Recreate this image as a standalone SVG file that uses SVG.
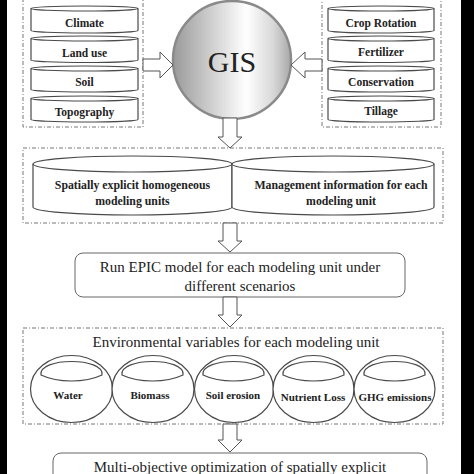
<svg xmlns="http://www.w3.org/2000/svg" width="474" height="474" viewBox="0 0 474 474">
<defs>
<linearGradient id="gis" x1="0" y1="0" x2="1" y2="0">
<stop offset="0" stop-color="#999"/>
<stop offset="0.3" stop-color="#cbcbcb"/>
<stop offset="0.62" stop-color="#ffffff"/>
<stop offset="0.85" stop-color="#d8d8d8"/>
<stop offset="1" stop-color="#a8a8a8"/>
</linearGradient>
</defs>
<style>
.dash{fill:none;stroke:#777;stroke-width:1;stroke-dasharray:4 2 1 2}
.cyl{fill:#fff;stroke:#4a4a4a;stroke-width:1.2}
.arr{fill:#fff;stroke:#555;stroke-width:1}
.t{font-family:"Liberation Serif","Times New Roman",serif;fill:#222;text-anchor:middle}
.s{font-size:11.5px;font-weight:bold}
.m{font-size:11.8px;font-weight:bold}
.c{font-size:11px;font-weight:bold}
.l{font-size:15px}
.box{fill:#fff;stroke:#666;stroke-width:1}
</style>
<rect x="0" y="0" width="474" height="474" fill="#fff"/>
<rect x="0" y="0" width="7" height="474" fill="#000"/>
<rect x="461" y="0" width="13" height="474" fill="#000"/>

<g id="left-panel">
<rect class="dash" x="23" y="-3" width="120" height="130"/>
<g id="climate">
<path class="cyl" d="M31,8.5 L31,30.5 A53.5,2.5 0 0 0 138,30.5 L138,8.5"/>
<ellipse class="cyl" cx="84.5" cy="8.5" rx="53.5" ry="2.5"/>
<text class="t s" x="84.5" y="27">Climate</text>
</g>
<g id="landuse">
<path class="cyl" d="M31,38.5 L31,60 A53.5,2.5 0 0 0 138,60 L138,38.5"/>
<ellipse class="cyl" cx="84.5" cy="38.5" rx="53.5" ry="2.5"/>
<text class="t s" x="84.5" y="57">Land use</text>
</g>
<g id="soil">
<path class="cyl" d="M31,68.5 L31,89.5 A53.5,2.5 0 0 0 138,89.5 L138,68.5"/>
<ellipse class="cyl" cx="84.5" cy="68.5" rx="53.5" ry="2.5"/>
<text class="t s" x="84.5" y="86">Soil</text>
</g>
<g id="topography">
<path class="cyl" d="M31,98.5 L31,119.5 A53.5,2.5 0 0 0 138,119.5 L138,98.5"/>
<ellipse class="cyl" cx="84.5" cy="98.5" rx="53.5" ry="2.5"/>
<text class="t s" x="84.5" y="116">Topography</text>
</g>
</g>

<g id="right-panel">
<rect class="dash" x="322" y="-3" width="119" height="130"/>
<g id="croprotation">
<path class="cyl" d="M328,8.5 L328,30.5 A53,2.5 0 0 0 434,30.5 L434,8.5"/>
<ellipse class="cyl" cx="381" cy="8.5" rx="53" ry="2.5"/>
<text class="t s" x="381" y="27">Crop Rotation</text>
</g>
<g id="fertilizer">
<path class="cyl" d="M328,38.5 L328,60 A53,2.5 0 0 0 434,60 L434,38.5"/>
<ellipse class="cyl" cx="381" cy="38.5" rx="53" ry="2.5"/>
<text class="t s" x="381" y="56">Fertilizer</text>
</g>
<g id="conservation">
<path class="cyl" d="M328,68.5 L328,89.5 A53,2.5 0 0 0 434,89.5 L434,68.5"/>
<ellipse class="cyl" cx="381" cy="68.5" rx="53" ry="2.5"/>
<text class="t s" x="381" y="86">Conservation</text>
</g>
<g id="tillage">
<path class="cyl" d="M328,98.5 L328,119.5 A53,2.5 0 0 0 434,119.5 L434,98.5"/>
<ellipse class="cyl" cx="381" cy="98.5" rx="53" ry="2.5"/>
<text class="t s" x="381" y="115">Tillage</text>
</g>
</g>

<g id="gis-node">
<circle cx="232" cy="60" r="59" fill="url(#gis)" stroke="#8a8a8a" stroke-width="2.5"/>
<text class="t" x="232" y="72" font-size="30">GIS</text>
</g>

<g id="units-panel">
<rect class="dash" x="23" y="148" width="420" height="75"/>
<g id="spatial-units">
<path class="cyl" d="M33,164 L33,207 A99.5,8 0 0 0 232,207 L232,164"/>
<ellipse class="cyl" cx="132.5" cy="164" rx="99.5" ry="8"/>
<text class="t m" x="132.5" y="189">Spatially explicit  homogeneous</text>
<text class="t m" x="132.5" y="205">modeling units</text>
</g>
<g id="management-info">
<path class="cyl" d="M232,164 L232,207 A101,8 0 0 0 434,207 L434,164"/>
<ellipse class="cyl" cx="333" cy="164" rx="101" ry="8"/>
<text class="t m" x="341" y="189">Management information for each</text>
<text class="t m" x="341" y="205">modeling unit</text>
</g>
</g>

<g id="run-epic">
<rect class="box" x="75" y="253" width="330" height="44" rx="8"/>
<text class="t l" x="240" y="272">Run EPIC model for each modeling unit under</text>
<text class="t l" x="240" y="291">different scenarios</text>
</g>

<g id="env-panel">
<rect class="dash" x="23" y="328" width="420" height="96"/>
<text class="t l" x="236" y="347">Environmental variables  for each modeling unit</text>
<g id="water">
<ellipse class="cyl" cx="71.5" cy="389" rx="41" ry="33.5"/>
<path class="cyl" d="M41,375 C38,357 105,357 102,375 C85,383 58,383 41,375 Z"/>
<text class="t c" x="68" y="399">Water</text>
</g>
<g id="biomass">
<ellipse class="cyl" cx="153" cy="389" rx="41" ry="33.5"/>
<path class="cyl" d="M122,375 C119,357 186,357 183,375 C166,383 139,383 122,375 Z"/>
<text class="t c" x="150" y="399">Biomass</text>
</g>
<g id="soilerosion">
<ellipse class="cyl" cx="234" cy="389" rx="39.5" ry="33.5"/>
<path class="cyl" d="M203,375 C200,357 267,357 264,375 C247,383 220,383 203,375 Z"/>
<text class="t c" x="233" y="399">Soil erosion</text>
</g>
<g id="nutrientloss">
<ellipse class="cyl" cx="313.5" cy="389" rx="40.5" ry="33.5"/>
<path class="cyl" d="M283,375 C280,357 347,357 344,375 C327,383 300,383 283,375 Z"/>
<text class="t c" x="313" y="401">Nutrient Loss</text>
</g>
<g id="ghg">
<ellipse class="cyl" cx="394.5" cy="389" rx="40.5" ry="33.5"/>
<path class="cyl" d="M364,375 C361,357 428,357 425,375 C408,383 381,383 364,375 Z"/>
<text class="t c" x="395" y="401">GHG emissions</text>
</g>
</g>

<g id="optimization">
<rect class="box" x="53" y="453" width="374" height="40" rx="8"/>
<text class="t l" x="240" y="472">Multi-objective optimization of spatially explicit</text>
</g>

<g id="connectors">
<path class="arr" d="M143,59 L160,59 L160,52 L173,65 L160,78 L160,71 L143,71 Z"/>
<path class="arr" d="M322,59 L305,59 L305,52 L291,65 L305,78 L305,71 L322,71 Z"/>
<path class="arr" d="M223,118 L237,118 L237,137 L242,137 L230,148 L218,137 L223,137 Z"/>
<path class="arr" d="M223,223 L237,223 L237,241 L242,241 L230,252 L218,241 L223,241 Z"/>
<path class="arr" d="M223,297 L237,297 L237,315 L242,315 L230,327 L218,315 L223,315 Z"/>
<path class="arr" d="M223,424 L237,424 L237,440 L242,440 L230,452 L218,440 L223,440 Z"/>
</g>
</svg>
